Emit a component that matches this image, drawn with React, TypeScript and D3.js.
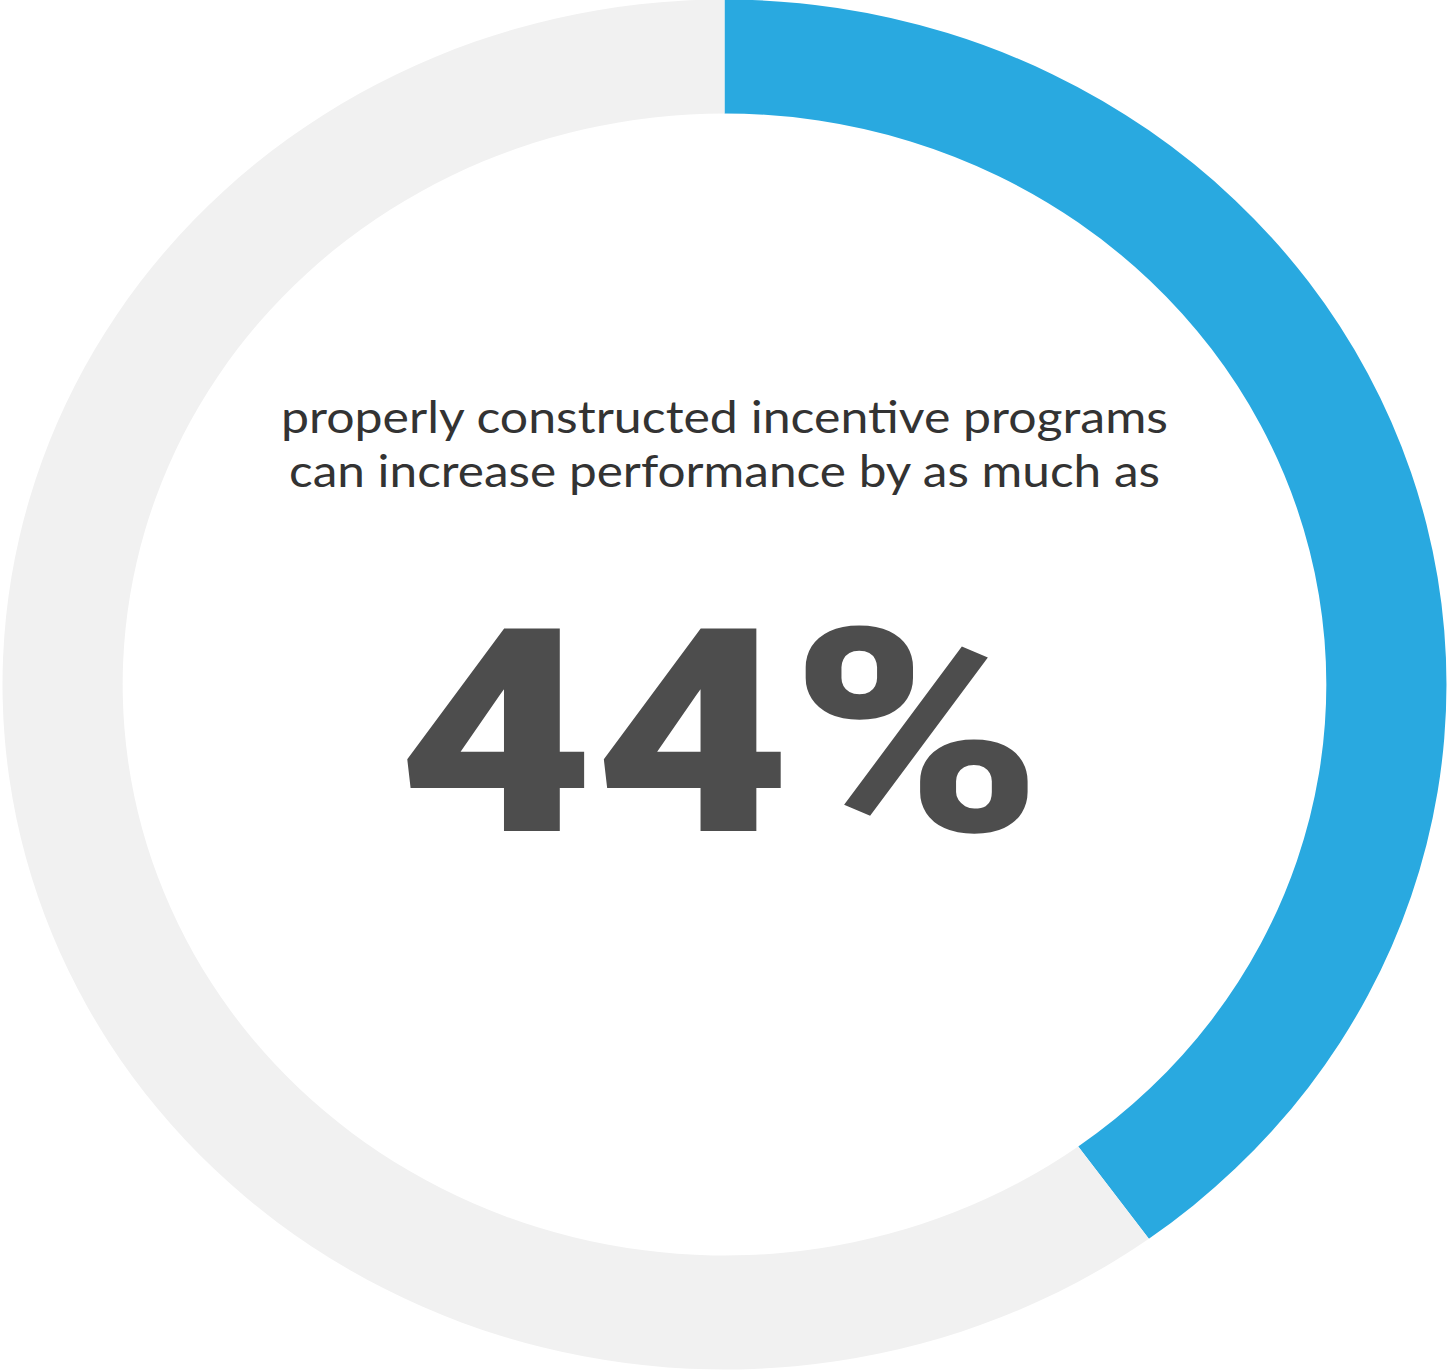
import React from "react";
import * as d3 from "d3";

const segmentNames = ["improved", "rest"];
const segmentValues = [40, 60];
const segmentColors = ["#29a9e0", "#f1f1f1"];
const captionLines = [
  "properly constructed incentive programs",
  "can increase performance by as much as",
];
const headline = "44%";

export default function App() {
  const W = 1449;
  const H = 1371;
  const cx = 724.5;
  const cy = 684.5;
  const outerR = 685;
  const innerR = 571;
  const sx = 1.054;

  const pie = d3
    .pie<number>()
    .sort(null)
    .value((d) => d)
    .startAngle(0)
    .endAngle(2 * Math.PI);
  const arcs = pie(segmentValues);
  const arc = d3.arc<d3.PieArcDatum<number>>().innerRadius(innerR).outerRadius(outerR);

  return (
    <svg
      width={W}
      height={H}
      style={{ position: "absolute", left: 0, top: 0, display: "block" }}
    >
      <rect width={W} height={H} fill="#ffffff" />
      <g transform={`translate(${cx},${cy}) scale(${sx},1)`}>
        {arcs.map((a, i) => (
          <path key={segmentNames[i]} d={arc(a) || ""} fill={segmentColors[i]} />
        ))}
      </g>
      <g fontFamily="Lato, 'Noto Sans', sans-serif" fill="#333333">
        <text x={724.5} y={433} textAnchor="middle" fontSize={45} textLength={887} lengthAdjust="spacingAndGlyphs">
          {captionLines[0]}
        </text>
        <text x={724.5} y={487} textAnchor="middle" fontSize={45} textLength={871} lengthAdjust="spacingAndGlyphs">
          {captionLines[1]}
        </text>
      </g>
      <text
        x={720}
        y={831}
        textAnchor="middle"
        fontFamily="Roboto, Inter, sans-serif"
        fontWeight={900}
        fontSize={285}
        fill="#4d4d4d"
        textLength={645}
        lengthAdjust="spacingAndGlyphs"
      >
        {headline}
      </text>
    </svg>
  );
}
